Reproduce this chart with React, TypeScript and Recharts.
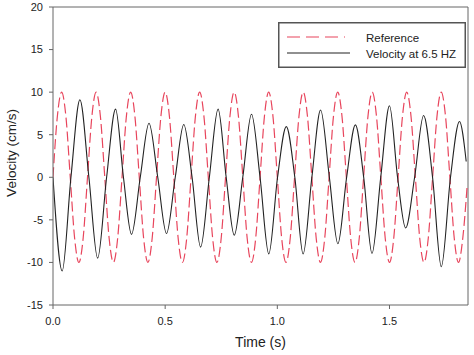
import React from 'react';
import { LineChart, Line, XAxis, YAxis, Legend, ReferenceLine } from 'recharts';

// reference signal, sampled every 1/8 period (6.5 Hz)
const refTimes = [
  0, 0.0192, 0.0385, 0.0577, 0.0769, 0.0962, 0.1154, 0.1346,
  0.1538, 0.1731, 0.1923, 0.2115, 0.2308, 0.25, 0.2692, 0.2885,
  0.3077, 0.3269, 0.3462, 0.3654, 0.3846, 0.4038, 0.4231, 0.4423,
  0.4615, 0.4808, 0.5, 0.5192, 0.5385, 0.5577, 0.5769, 0.5962,
  0.6154, 0.6346, 0.6538, 0.6731, 0.6923, 0.7115, 0.7308, 0.75,
  0.7692, 0.7885, 0.8077, 0.8269, 0.8462, 0.8654, 0.8846, 0.9038,
  0.9231, 0.9423, 0.9615, 0.9808, 1.0, 1.0192, 1.0385, 1.0577,
  1.0769, 1.0962, 1.1154, 1.1346, 1.1538, 1.1731, 1.1923, 1.2115,
  1.2308, 1.25, 1.2692, 1.2885, 1.3077, 1.3269, 1.3462, 1.3654,
  1.3846, 1.4038, 1.4231, 1.4423, 1.4615, 1.4808, 1.5, 1.5192,
  1.5385, 1.5577, 1.5769, 1.5962, 1.6154, 1.6346, 1.6538, 1.6731,
  1.6923, 1.7115, 1.7308, 1.75, 1.7692, 1.7885, 1.8077, 1.8269,
  1.8462,
];
const refValues = [
  0, 7.1, 10, 7.1, 0, -7.1, -10, -7.1,
  0, 7.1, 10, 7.1, 0, -7.1, -10, -7.1,
  0, 7.1, 10, 7.1, 0, -7.1, -10, -7.1,
  0, 7.1, 10, 7.1, 0, -7.1, -10, -7.1,
  0, 7.1, 10, 7.1, 0, -7.1, -10, -7.1,
  0, 7.1, 10, 7.1, 0, -7.1, -10, -7.1,
  0, 7.1, 10, 7.1, 0, -7.1, -10, -7.1,
  0, 7.1, 10, 7.1, 0, -7.1, -10, -7.1,
  0, 7.1, 10, 7.1, 0, -7.1, -10, -7.1,
  0, 7.1, 10, 7.1, 0, -7.1, -10, -7.1,
  0, 7.1, 10, 7.1, 0, -7.1, -10, -7.1,
  0, 7.1, 10, 7.1, 0, -7.1, -10, -7.1,
  -1,
];

const velTimes = [
  0, 0.041, 0.08, 0.12, 0.16, 0.199, 0.239, 0.279, 0.314, 0.35, 0.389, 0.428,
  0.467, 0.506, 0.545, 0.583, 0.62, 0.658, 0.697, 0.736, 0.772, 0.808, 0.846,
  0.885, 0.923, 0.962, 1.001, 1.04, 1.078, 1.115, 1.154, 1.193, 1.232, 1.27,
  1.309, 1.348, 1.385, 1.422, 1.461, 1.5, 1.536, 1.572, 1.612, 1.652, 1.692,
  1.731, 1.772, 1.812, 1.842,
];
const velValues = [
  0, -11.0, 0, 9.1, 0, -9.5, 0, 8.0, 0, -6.7, 0, 6.35,
  0, -6.6, 0, 6.2, 0, -8.2, 0, 8.0, 0, -6.8, 0,
  7.4, 0, -9.0, 0, 5.95, 0, -9.0, 0, 7.9, 0, -7.8,
  0, 6.15, 0, -8.95, 0, 8.4, 0, -5.95, 0, 7.25, 0,
  -10.5, 0, 6.55, 1.85,
];

const xTicks = [0, 0.5, 1.0, 1.5];
const yTicks = [-15, -10, -5, 0, 5, 10, 15, 20];

const refData = refTimes.map((t, i) => ({ t, v: refValues[i] }));
const velData = velTimes.map((t, i) => ({ t, v: velValues[i] }));

const FONT = '"Liberation Sans", Arial, sans-serif';
const RED = '#e8455c';
const AXIS = '#666';

function LegendBox() {
  return (
    <svg width={188} height={46} style={{ display: 'block', fontFamily: FONT }}>
      <rect x={0.75} y={0.75} width={186.5} height={44.5} fill="#fff" stroke="#555" strokeWidth={1.5} />
      <line x1={9} y1={15} x2={67} y2={15} stroke={RED} strokeWidth={1.2} strokeDasharray="13 6" />
      <line x1={9} y1={31} x2={72} y2={31} stroke="#222" strokeWidth={1.2} />
      <text x={88} y={20} fontSize={11.5} fill="#222">Reference</text>
      <text x={88} y={36} fontSize={11.5} fill="#222">Velocity at 6.5 HZ</text>
    </svg>
  );
}

export default function App() {
  return (
    <div style={{ position: 'absolute', left: 0, top: 0, width: 474, height: 355, background: '#fff' }}>
      <LineChart width={474} height={355} margin={{ top: 7, right: 6, bottom: 20, left: 8 }}>
        <XAxis
          dataKey="t"
          type="number"
          domain={[0, 1.85]}
          ticks={xTicks}
          allowDataOverflow
          tickFormatter={(v) => v.toFixed(1)}
          height={30}
          tickSize={4}
          tickMargin={8}
          stroke={AXIS}
          tick={{ fontSize: 11, fill: '#222', fontFamily: FONT }}
          label={{ value: 'Time (s)', position: 'bottom', offset: 2, fontSize: 14, fill: '#222', fontFamily: FONT }}
        />
        <YAxis
          dataKey="v"
          type="number"
          domain={[-15, 20]}
          ticks={yTicks}
          width={45}
          tickSize={4}
          tickMargin={6}
          stroke={AXIS}
          tick={{ fontSize: 11, fill: '#222', fontFamily: FONT }}
          label={{ value: 'Velocity (cm/s)', angle: -90, position: 'center', dx: -19, dy: -3, fontSize: 13.5, fill: '#222', fontFamily: FONT }}
        />
        <ReferenceLine y={20} stroke={AXIS} />
        <ReferenceLine x={1.85} stroke={AXIS} />
        <Legend
          layout="vertical"
          align="center"
          verticalAlign="middle"
          wrapperStyle={{ left: 278, top: 22, width: 188, height: 46 }}
          content={() => <LegendBox />}
        />
        <Line
          data={refData}
          dataKey="v"
          type="monotone"
          stroke={RED}
          strokeWidth={1.2}
          strokeDasharray="10 4"
          dot={false}
          isAnimationActive={false}
          name="Reference"
        />
        <Line
          data={velData}
          dataKey="v"
          type="monotone"
          stroke="#222"
          strokeWidth={1.1}
          dot={false}
          isAnimationActive={false}
          name="Velocity at 6.5 HZ"
        />
      </LineChart>
    </div>
  );
}
